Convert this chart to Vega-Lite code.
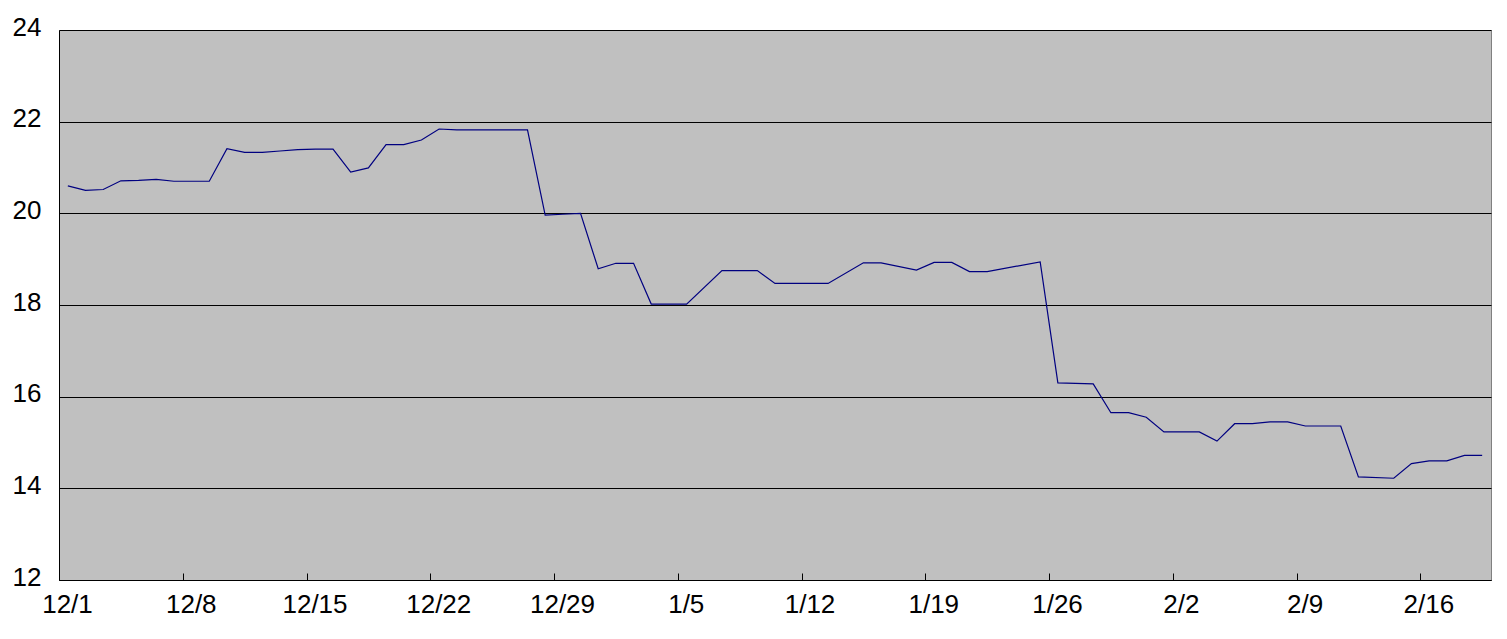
{
  "$schema": "https://vega.github.io/schema/vega-lite/v6.json",
  "width": 1432,
  "height": 550,
  "autosize": {"type": "none"},
  "padding": {"left": 59, "top": 30, "right": 16, "bottom": 59},
  "background": "white",
  "config": {
    "view": {"fill": "#c0c0c0", "stroke": "#808080", "strokeWidth": 1},
    "font": "Liberation Sans",
    "axis": {
      "labelFont": "Liberation Sans",
      "labelFontSize": 26,
      "labelColor": "black",
      "domainColor": "black",
      "domainWidth": 1,
      "tickColor": "black",
      "title": null
    }
  },
  "data": {
    "format": {"parse": {"date": "date:'%Y-%m-%d'"}},
    "values": [
      {"date": "2010-12-01", "value": 20.60},
      {"date": "2010-12-02", "value": 20.50},
      {"date": "2010-12-03", "value": 20.52},
      {"date": "2010-12-04", "value": 20.71},
      {"date": "2010-12-05", "value": 20.72},
      {"date": "2010-12-06", "value": 20.74},
      {"date": "2010-12-07", "value": 20.70},
      {"date": "2010-12-08", "value": 20.70},
      {"date": "2010-12-09", "value": 20.70},
      {"date": "2010-12-10", "value": 21.41},
      {"date": "2010-12-11", "value": 21.33},
      {"date": "2010-12-12", "value": 21.33},
      {"date": "2010-12-13", "value": 21.36},
      {"date": "2010-12-14", "value": 21.39},
      {"date": "2010-12-15", "value": 21.40},
      {"date": "2010-12-16", "value": 21.40},
      {"date": "2010-12-17", "value": 20.90},
      {"date": "2010-12-18", "value": 20.99},
      {"date": "2010-12-19", "value": 21.50},
      {"date": "2010-12-20", "value": 21.50},
      {"date": "2010-12-21", "value": 21.60},
      {"date": "2010-12-22", "value": 21.84},
      {"date": "2010-12-23", "value": 21.82},
      {"date": "2010-12-27", "value": 21.82},
      {"date": "2010-12-28", "value": 19.96},
      {"date": "2010-12-29", "value": 19.98},
      {"date": "2010-12-30", "value": 20.00},
      {"date": "2010-12-31", "value": 18.79},
      {"date": "2011-01-01", "value": 18.91},
      {"date": "2011-01-02", "value": 18.91},
      {"date": "2011-01-03", "value": 18.02},
      {"date": "2011-01-05", "value": 18.02},
      {"date": "2011-01-07", "value": 18.75},
      {"date": "2011-01-09", "value": 18.75},
      {"date": "2011-01-10", "value": 18.47},
      {"date": "2011-01-13", "value": 18.47},
      {"date": "2011-01-15", "value": 18.92},
      {"date": "2011-01-16", "value": 18.92},
      {"date": "2011-01-18", "value": 18.76},
      {"date": "2011-01-19", "value": 18.93},
      {"date": "2011-01-20", "value": 18.93},
      {"date": "2011-01-21", "value": 18.73},
      {"date": "2011-01-22", "value": 18.73},
      {"date": "2011-01-25", "value": 18.94},
      {"date": "2011-01-26", "value": 16.30},
      {"date": "2011-01-28", "value": 16.28},
      {"date": "2011-01-29", "value": 15.65},
      {"date": "2011-01-30", "value": 15.65},
      {"date": "2011-01-31", "value": 15.55},
      {"date": "2011-02-01", "value": 15.23},
      {"date": "2011-02-03", "value": 15.23},
      {"date": "2011-02-04", "value": 15.03},
      {"date": "2011-02-05", "value": 15.41},
      {"date": "2011-02-06", "value": 15.41},
      {"date": "2011-02-07", "value": 15.45},
      {"date": "2011-02-08", "value": 15.45},
      {"date": "2011-02-09", "value": 15.36},
      {"date": "2011-02-11", "value": 15.36},
      {"date": "2011-02-12", "value": 14.25},
      {"date": "2011-02-14", "value": 14.22},
      {"date": "2011-02-15", "value": 14.54},
      {"date": "2011-02-16", "value": 14.60},
      {"date": "2011-02-17", "value": 14.60},
      {"date": "2011-02-18", "value": 14.72},
      {"date": "2011-02-19", "value": 14.72}
    ]
  },
  "mark": {"type": "line", "color": "#000080", "strokeWidth": 1.2},
  "encoding": {
    "x": {
      "field": "date",
      "type": "temporal",
      "timeUnit": "yearmonthdate",
      "bandPosition": 0.5,
      "scale": {
        "domain": [
          {"year": 2010, "month": 12, "date": 1},
          {"year": 2011, "month": 2, "date": 20}
        ]
      },
      "axis": {
        "values": [
          {"year": 2010, "month": 12, "date": 1},
          {"year": 2010, "month": 12, "date": 8},
          {"year": 2010, "month": 12, "date": 15},
          {"year": 2010, "month": 12, "date": 22},
          {"year": 2010, "month": 12, "date": 29},
          {"year": 2011, "month": 1, "date": 5},
          {"year": 2011, "month": 1, "date": 12},
          {"year": 2011, "month": 1, "date": 19},
          {"year": 2011, "month": 1, "date": 26},
          {"year": 2011, "month": 2, "date": 2},
          {"year": 2011, "month": 2, "date": 9},
          {"year": 2011, "month": 2, "date": 16}
        ],
        "format": "%-m/%-d",
        "formatType": "time",
        "grid": false,
        "tickSize": -7,
        "labelPadding": 18,
        "labelOffset": 8,
        "labelBaseline": "top",
        "labelFlush": false,
        "labelOverlap": false
      }
    },
    "y": {
      "field": "value",
      "type": "quantitative",
      "scale": {"domain": [12, 24], "zero": false, "nice": false},
      "axis": {
        "values": [12, 14, 16, 18, 20, 22, 24],
        "grid": true,
        "gridColor": "black",
        "gridWidth": 1,
        "gridOpacity": 1,
        "ticks": false,
        "labelPadding": 18,
        "labelBaseline": "middle",
        "labelOffset": -3
      }
    }
  }
}
